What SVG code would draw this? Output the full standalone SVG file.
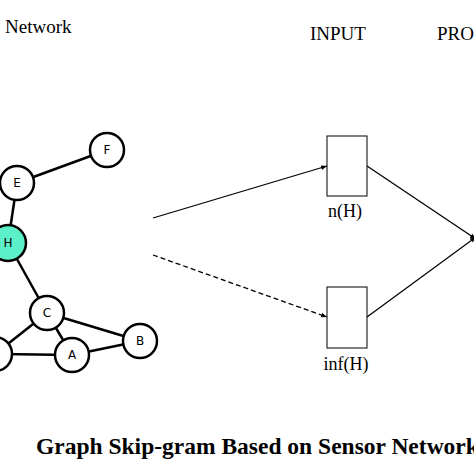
<svg xmlns="http://www.w3.org/2000/svg" width="474" height="474" viewBox="0 0 474 474">
<style>
.edge{stroke:#000;stroke-width:2.5;fill:none}
.node circle{fill:#fff;stroke:#000;stroke-width:2.5}
.node text{font-family:"DejaVu Sans",sans-serif;font-size:12px;text-anchor:middle;fill:#000}
.lbl{font-family:"Liberation Serif",serif;fill:#000}
.arr{stroke:#000;stroke-width:1.3;fill:none;marker-end:url(#ah)}
.box rect{fill:#fff;stroke:#000;stroke-width:1}
</style>
<defs>
<marker id="ah" viewBox="0 0 10 10" refX="10" refY="5" markerWidth="6" markerHeight="6" orient="auto" markerUnits="userSpaceOnUse">
<path d="M0,1 L10,5 L0,9 z" fill="#000"/>
</marker>
</defs>
<rect width="474" height="474" fill="#fff"/>
<text class="lbl" x="5" y="33" font-size="19">Network</text>
<text class="lbl" x="310" y="40" font-size="19">INPUT</text>
<text class="lbl" x="437" y="40" font-size="19">PRO</text>
<g id="graph-edges">
<line class="edge" x1="107" y1="150" x2="17" y2="183"/>
<line class="edge" x1="17" y1="183" x2="8" y2="243"/>
<line class="edge" x1="8" y1="243" x2="47" y2="313"/>
<line class="edge" x1="47" y1="313" x2="72" y2="355"/>
<line class="edge" x1="47" y1="313" x2="140" y2="341"/>
<line class="edge" x1="72" y1="355" x2="140" y2="341"/>
<line class="edge" x1="47" y1="313" x2="-5" y2="354"/>
<line class="edge" x1="72" y1="355" x2="-5" y2="354"/>
</g>
<g id="node-F" class="node"><circle cx="107" cy="150" r="17"/><text x="107" y="154">F</text></g>
<g id="node-E" class="node"><circle cx="17" cy="183" r="17"/><text x="17" y="187">E</text></g>
<g id="node-H" class="node"><circle cx="8" cy="243" r="18" style="fill:#5cf0c8"/><text x="8" y="247">H</text></g>
<g id="node-C" class="node"><circle cx="47" cy="313" r="17"/><text x="47" y="317">C</text></g>
<g id="node-B" class="node"><circle cx="140" cy="341" r="17"/><text x="140" y="345">B</text></g>
<g id="node-A" class="node"><circle cx="72" cy="355" r="17"/><text x="72" y="359">A</text></g>
<g id="node-D" class="node"><circle cx="-5" cy="354" r="17"/></g>
<g id="box-nH" class="box"><rect x="327" y="136" width="40" height="60"/><text class="lbl" x="345" y="217" font-size="18" text-anchor="middle">n(H)</text></g>
<g id="box-infH" class="box"><rect x="327" y="287" width="40" height="61"/><text class="lbl" x="346" y="370" font-size="18" text-anchor="middle">inf(H)</text></g>
<g id="connectors">
<line class="arr" x1="153" y1="218" x2="327" y2="166"/>
<line class="arr" x1="153" y1="255" x2="327" y2="317" stroke-dasharray="5,3"/>
<line class="arr" x1="367" y1="166" x2="476" y2="239"/>
<line class="arr" x1="367" y1="317" x2="476" y2="237"/>
</g>
<text class="lbl" x="36" y="454" font-size="23.5" font-weight="bold">Graph Skip-gram Based on Sensor Network</text>
</svg>
